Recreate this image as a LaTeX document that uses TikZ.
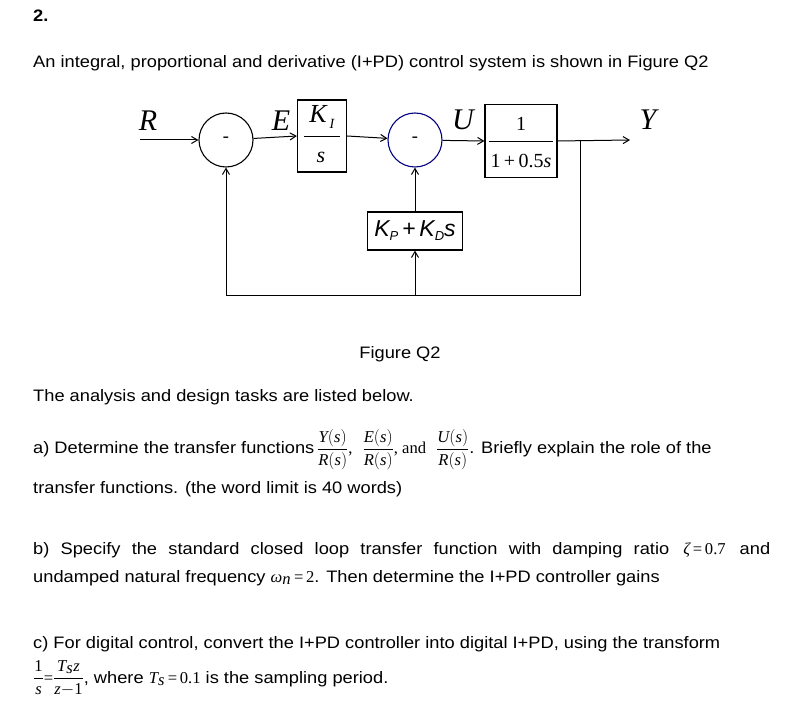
\documentclass[tikz,border=0pt]{standalone}
\usepackage{fontspec}
\usepackage{amsmath}
\usetikzlibrary{arrows.meta}
\setmainfont[FakeStretch=1.1]{Liberation Sans}
\newfontfamily\tms{Liberation Serif}
\newfontfamily\arl{Liberation Sans}
\newcommand{\tv}[1]{\mbox{\tms\itshape #1}}
\newcommand{\tu}[1]{\mbox{\tms #1}}
\begin{document}
\begin{tikzpicture}[x=1pt,y=-1pt,
  blk/.style={draw,line width=1.1pt,minimum width=#1,inner sep=0pt},
  sumc/.style={draw,circle,line width=1.1pt,minimum size=54pt,inner sep=0pt},
  ln/.style={line width=1pt},
  arr/.style={ln,-{Straight Barb[length=6pt,width=7pt]}},
  txt/.style={anchor=base west,inner sep=0pt,font=\fontsize{16.6}{19}\selectfont},
  big/.style={inner sep=0pt,font=\fontsize{30}{30}\selectfont\tms\itshape}]
\useasboundingbox (0,0) rectangle (807,703);
\node[anchor=base west,inner sep=0pt,font=\fontsize{16.6}{19}\selectfont\bfseries] at (33,22) {2.};
\node[txt] at (33,68) {An integral, proportional and derivative (I+PD) control system is shown in Figure Q2};
% diagram
\coordinate (R0) at (140,140);
\node[sumc] (s1) at (226,140) {\fontsize{18}{18}\selectfont -};
\node[blk=49pt,minimum height=72pt] (ki) at (322,136) {};
\draw[line width=0.8pt] (304,136) -- (340,136);
\node[inner sep=0pt,font=\fontsize{26}{26}\selectfont\tms\itshape] at (318,114) {K};
\node[inner sep=0pt,font=\fontsize{14}{14}\selectfont\tms\itshape] at (332,124) {I};
\node[inner sep=0pt,font=\fontsize{22}{22}\selectfont\tms\itshape] at (321,157) {s};
\node[sumc,draw=blue!50!black] (s2) at (415,140) {\fontsize{18}{18}\selectfont -};
\node[blk=72pt,minimum height=73pt] (pl) at (521,141) {};
\draw[line width=0.8pt] (489,141) -- (553,141);
\node[inner sep=0pt,font=\fontsize{20}{20}\selectfont\tms] at (521,124) {1};
\node[inner sep=0pt,font=\fontsize{20}{20}\selectfont\tms] at (521,161) {1\,+\,0.5\textit{s}};
\node[blk=95pt,minimum height=38pt,font=\fontsize{23}{23}\selectfont\arl\itshape] (pd) at (415,231) {K\raisebox{-4pt}{\fontsize{13}{13}\selectfont P}\,+\,K\raisebox{-4pt}{\fontsize{13}{13}\selectfont D}s};
\coordinate (br) at (580,140);
\coordinate (Yend) at (630,140);
\coordinate (fb) at (580,296);
\coordinate (fl) at (226,296);
\coordinate (fm) at (415,296);
\draw[arr] (R0) -- (s1);
\draw[arr] (s1) -- (ki.west);
\draw[arr] (ki.east) -- (s2);
\draw[arr] (s2) -- (pl.west);
\draw[arr] (pl.east) -- (Yend);
\draw[ln] (br) -- (fb) -- (fl);
\draw[arr] (fl) -- (s1);
\draw[arr] (fm) -- (pd);
\draw[arr] (pd) -- (s2);
\node[big] at (148,121) {R};
\node[big] at (281,121) {E};
\node[big] at (463,120) {U};
\node[big] at (648,120) {Y};
\node[txt,anchor=base] at (400,359) {Figure Q2};
\node[txt] at (33,402) {The analysis and design tasks are listed below.};
\node[txt] at (33,454) {a) Determine the transfer functions\,$\dfrac{\tv{Y}(\tv{s})}{\tv{R}(\tv{s})}$\tu{,}\ \ $\dfrac{\tv{E}(\tv{s})}{\tv{R}(\tv{s})}$\tu{, and}\ \ $\dfrac{\tv{U}(\tv{s})}{\tv{R}(\tv{s})}$. Briefly explain the role of the};
\node[txt] at (33,494) {transfer functions. (the word limit is 40 words)};
\node[txt,text width=737pt,align=justify,anchor=north west,font=\fontsize{16.6}{28}\selectfont] at (33,542) {b) Specify the standard closed loop transfer function with damping ratio \,$\tv{ζ}\tu{\,=\,0.7}$\, and\linebreak undamped natural frequency $\tv{ω}_{\tv{n}}\tu{\,=\,2}$. Then determine the I+PD controller gains};
\node[txt,text width=737pt,align=justify,anchor=north west] at (33,636) {c) For digital control, convert the I+PD controller into digital I+PD, using the transform};
\node[txt] at (33,683) {$\dfrac{\tu{1}}{\tv{s}}\tu{=}\dfrac{\tv{T}_{\tv{s}}\tv{z}}{\tv{z}\tu{$-$1}}$, where $\tv{T}_{\tv{s}}\tu{\,=\,0.1}$ is the sampling period.};
\end{tikzpicture}
\end{document}
